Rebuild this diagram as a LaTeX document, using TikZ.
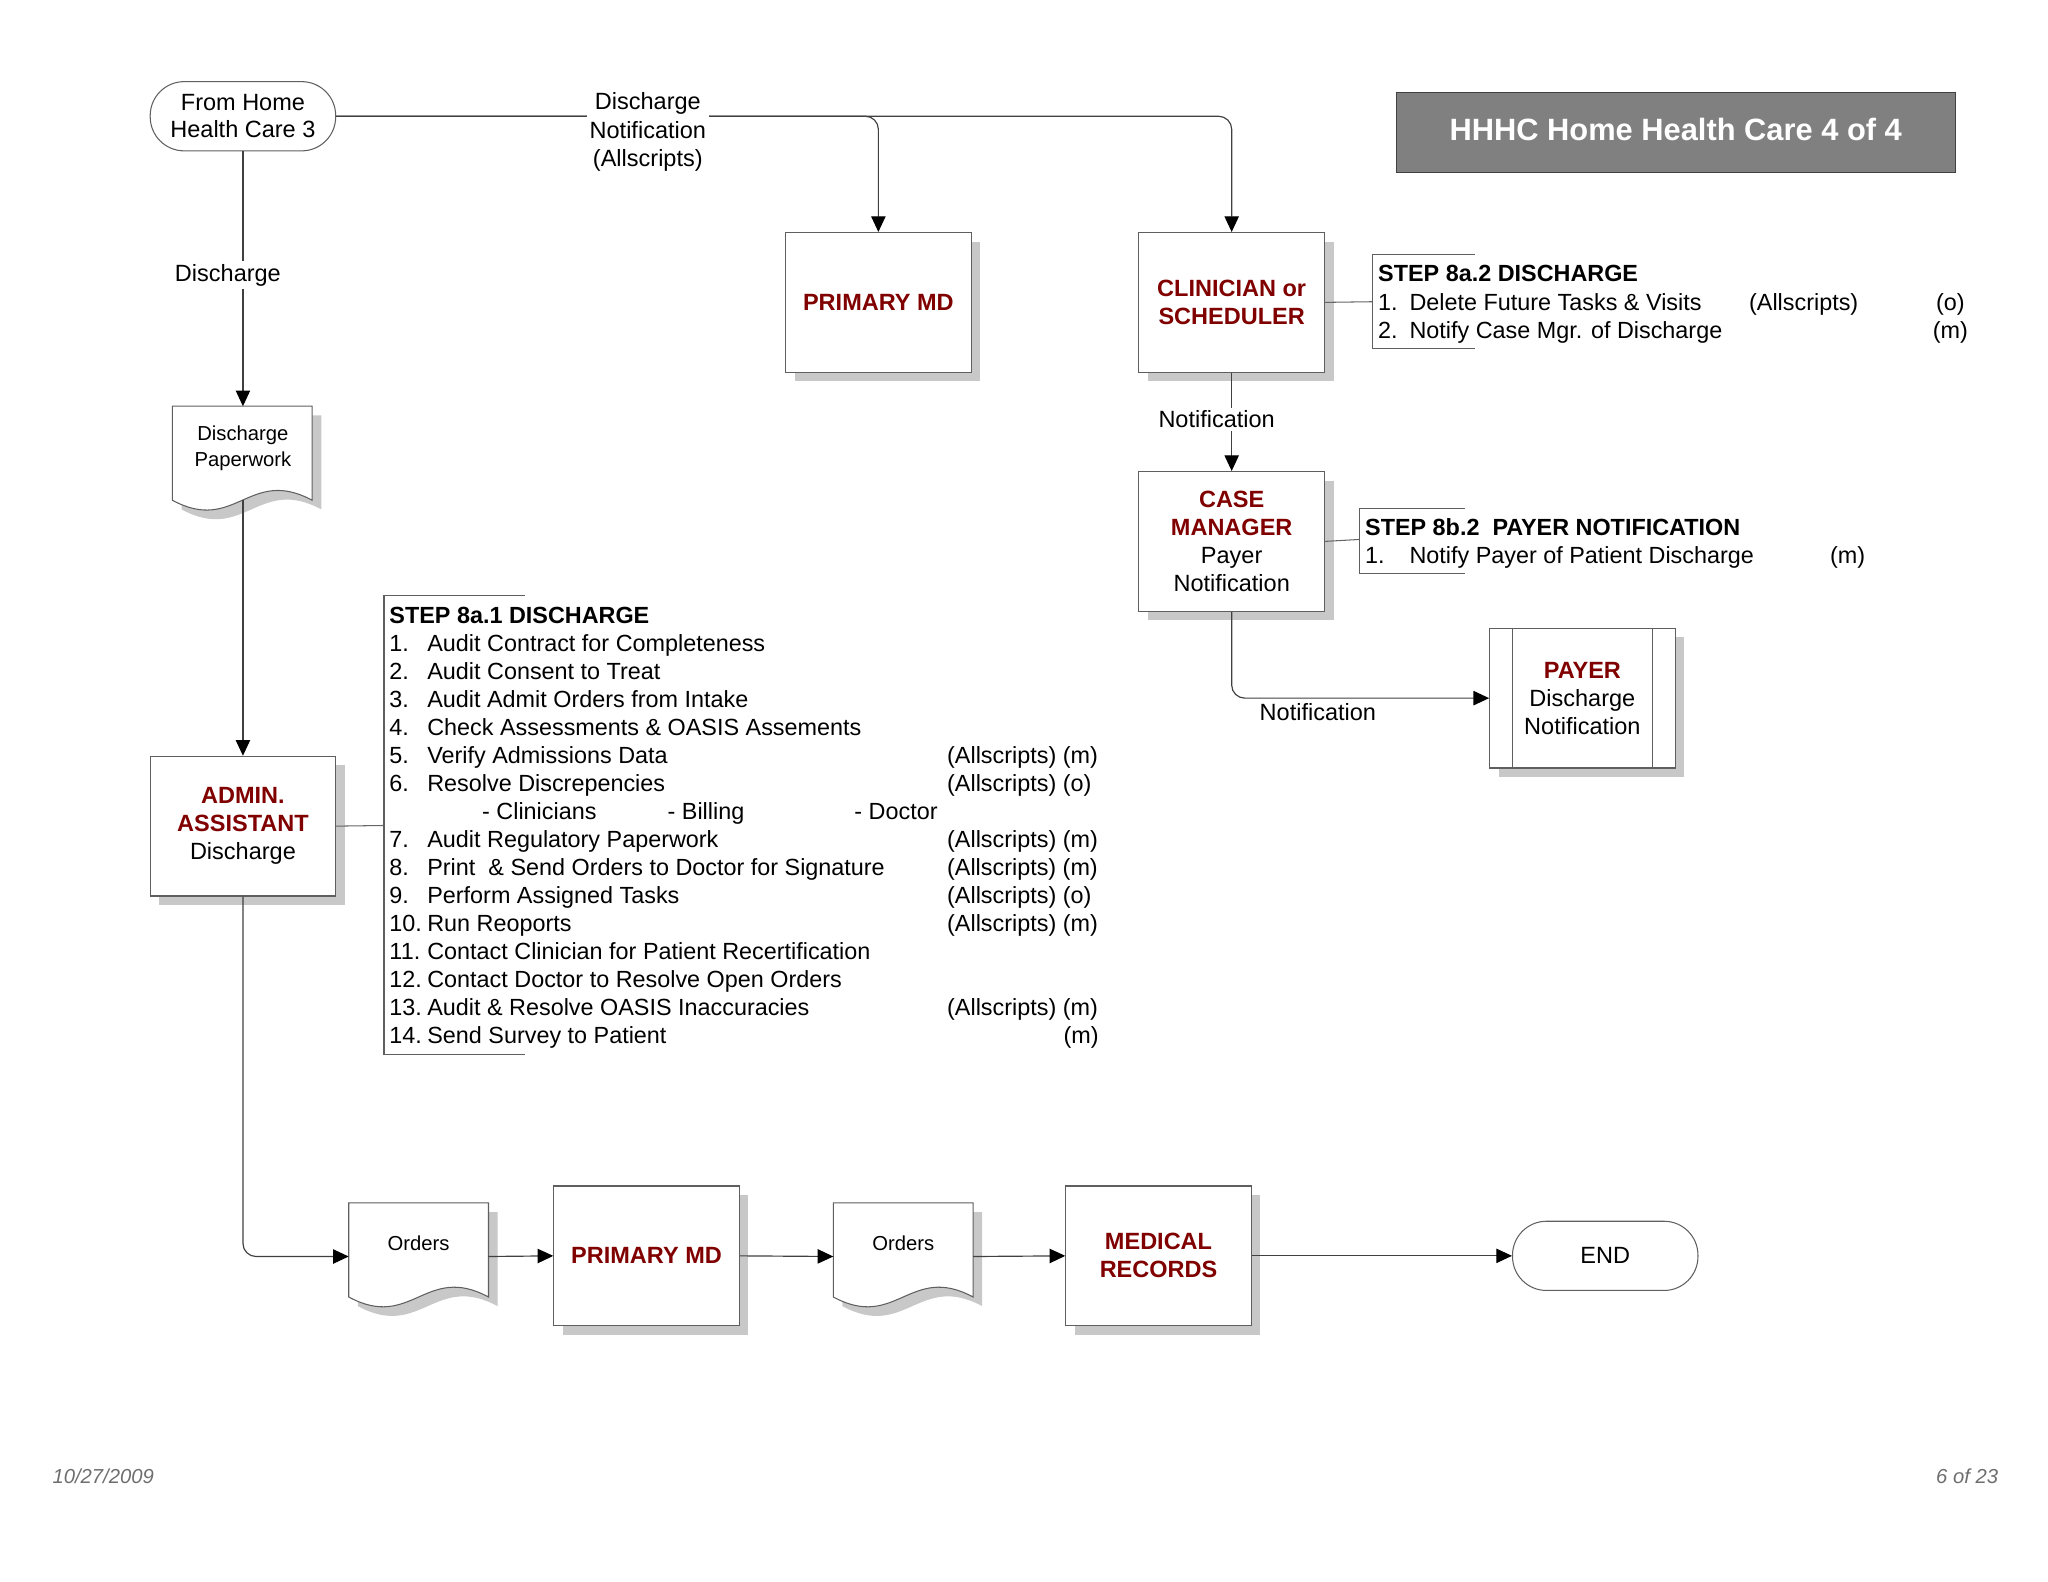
\documentclass[tikz,border=0pt]{standalone}
\usepackage{fontspec}
\setmainfont{Liberation Sans}
\usetikzlibrary{arrows.meta,shadows}
\definecolor{dred}{RGB}{128,0,0}
\definecolor{shad}{RGB}{200,200,200}
\definecolor{edgec}{RGB}{95,95,95}
\definecolor{titlegray}{RGB}{128,128,128}
\definecolor{footgray}{RGB}{110,110,110}
\newcommand\fsz[2]{\fontsize{#1bp}{#2bp}\selectfont}
\newcommand\rd[1]{\textcolor{dred}{\textbf{#1}}}
\newcommand\rowA[3]{\makebox[29bp][l]{#1}\makebox[398bp][l]{#2}#3}
\newcommand\docshape[4]{%
  \fill[shad] ({#1+7},{#2+7}) -- ({#3+7},{#2+7}) -- ({#3+7},{#4+7})
     .. controls ({#1+7+0.55*(#3-#1)},{#4+7-26}) and ({#1+7+0.45*(#3-#1)},{#4+7+26}) .. ({#1+7},{#4+7}) -- cycle;
  \draw[edgec, line width=0.8bp, fill=white] (#1,#2) -- (#3,#2) -- (#3,#4)
     .. controls ({#1+0.55*(#3-#1)},{#4-26}) and ({#1+0.45*(#3-#1)},{#4+26}) .. (#1,#4) -- cycle;}
\begin{document}
\begin{tikzpicture}[x=1bp,y=-1bp,
  box/.style={draw=edgec, line width=0.8bp, fill=white, minimum width=142bp, minimum height=107bp,
    align=center, inner sep=0pt, font=\fsz{18}{21.4},
    drop shadow={shadow xshift=7bp, shadow yshift=-7bp, fill=shad, opacity=1}},
  term/.style={draw=edgec, line width=0.8bp, fill=white, rounded corners=26bp, minimum width=142bp,
    minimum height=53bp, align=center, inner sep=0pt, font=\fsz{18}{21}},
  conn/.style={draw=black!75, line width=0.9bp, -{Triangle[length=12bp,width=11bp,color=black,fill=black]}},
  plain/.style={draw=black!60, line width=0.8bp},
  brk/.style={draw=edgec, line width=0.8bp},
  lbl/.style={fill=white, inner sep=2bp, align=center, font=\fsz{18}{22}},
  steptext/.style={anchor=north west, inner sep=0pt, align=left, font=\fsz{17.9}{21.47}},
  doctext/.style={align=center, inner sep=0pt, font=\fsz{15.5}{20}}]
\useasboundingbox (0,0) rectangle (1568,1211);

% title
\node[draw=black!75, line width=0.8bp, fill=titlegray, minimum width=428bp, minimum height=61bp,
  inner sep=0pt] (title) at (1283,101.5) {};
\node[inner sep=0pt, text=white, font=\fsz{23.6}{28}\bfseries] (titletext) at (1283,99.5) {HHHC Home Health Care 4 of 4};

% terminators
\node[term] (from) at (186,89) {From Home\\Health Care 3};
\node[term] (end) at (1229,961.5) {END};

% process boxes
\node[box] (md1) at (672.5,231.5) {\rd{PRIMARY MD}};
\node[box] (clin) at (943,231.5) {\rd{CLINICIAN or}\\\rd{SCHEDULER}};
\node[box] (case) at (943,414.5) {\rd{CASE}\\\rd{MANAGER}\\Payer\\Notification};
\node[box] (admin) at (186,632.5) {\rd{ADMIN.}\\\rd{ASSISTANT}\\Discharge};
\node[box] (md2) at (495,961.5) {\rd{PRIMARY MD}};
\node[box] (medrec) at (887,961.5) {\rd{MEDICAL}\\\rd{RECORDS}};
\node[box] (payer) at (1211.5,534.5) {\rd{PAYER}\\Discharge\\Notification};
\draw[brk] ([xshift=18bp]payer.north west) -- ([xshift=18bp]payer.south west);
\draw[brk] ([xshift=-18bp]payer.north east) -- ([xshift=-18bp]payer.south east);

% document shapes
\docshape{132}{311}{239}{383}
\node[doctext] (dpaper) at (186,343.5) {Discharge\\Paperwork};
\coordinate (dp-top) at (186,311);
\coordinate (dp-bot) at (186,383);
\docshape{267}{921}{374}{993}
\node[doctext] (ord1) at (320.5,952) {Orders};
\coordinate (o1-left) at (267,962);
\coordinate (o1-right) at (374,962);
\docshape{638}{921}{745}{993}
\node[doctext] (ord2) at (691.5,952) {Orders};
\coordinate (o2-left) at (638,962);
\coordinate (o2-right) at (745,962);

% connectors
\draw[conn, rounded corners=10bp] (from.east) -| (md1.north);
\draw[conn, rounded corners=10bp] (from.east) -| (clin.north);
\node[lbl] (lbdn) at (496,101) {Discharge\\Notification\\(Allscripts)};
\draw[conn] (from.south) -- (dp-top);
\node[lbl] (lbd) at (174.5,210.5) {Discharge};
\draw[conn] (dp-bot) -- (admin.north);
\draw[conn, rounded corners=10bp] (admin.south) |- (o1-left);
\draw[conn] (o1-right) -- (md2.west);
\draw[conn] (md2.east) -- (o2-left);
\draw[conn] (o2-right) -- (medrec.west);
\draw[conn] (medrec.east) -- (end.west);
\draw[conn] (clin.south) -- (case.north);
\node[lbl] (lbn1) at (931.5,321) {Notification};
\draw[conn, rounded corners=10bp] (case.south) |- (payer.west);
\node[lbl, fill=none] (lbn2) at (1009,545) {Notification};

% step brackets
\coordinate (s1-left) at (294,632);
\coordinate (s2-left) at (1051,231);
\coordinate (s3-left) at (1041,413);
\draw[plain] (admin.east) -- (s1-left);
\draw[plain] (clin.east) -- (s2-left);
\draw[plain] (case.east) -- (s3-left);
\draw[brk] (402,456) -- (294,456) -- (294,807) -- (402,807);
\draw[brk] (1129,195) -- (1051,195) -- (1051,267) -- (1129,267);
\draw[brk] (1122,389) -- (1041,389) -- (1041,439) -- (1122,439);

% step texts
\node[steptext] (s1) at (298,464.5) {\textbf{STEP 8a.1 DISCHARGE}\\
\rowA{1.}{Audit Contract for Completeness}{}\\
\rowA{2.}{Audit Consent to Treat}{}\\
\rowA{3.}{Audit Admit Orders from Intake}{}\\
\rowA{4.}{Check Assessments \& OASIS Assements}{}\\
\rowA{5.}{Verify Admissions Data}{(Allscripts) (m)}\\
\rowA{6.}{Resolve Discrepencies}{(Allscripts) (o)}\\
\hspace*{71bp}\makebox[142bp][l]{- Clinicians}\makebox[143bp][l]{- Billing}- Doctor\\
\rowA{7.}{Audit Regulatory Paperwork}{(Allscripts) (m)}\\
\rowA{8.}{Print \ \& Send Orders to Doctor for Signature}{(Allscripts) (m)}\\
\rowA{9.}{Perform Assigned Tasks}{(Allscripts) (o)}\\
\rowA{10.}{Run Reoports}{(Allscripts) (m)}\\
\rowA{11.}{Contact Clinician for Patient Recertification}{}\\
\rowA{12.}{Contact Doctor to Resolve Open Orders}{}\\
\rowA{13.}{Audit \& Resolve OASIS Inaccuracies}{(Allscripts) (m)}\\
\rowA{14.}{Send Survey to Patient}{\makebox[116bp][r]{(m)}}};

\node[steptext] (s2) at (1055,203.2) {\textbf{STEP 8a.2 DISCHARGE}\\
\makebox[24bp][l]{1.}\makebox[260bp][l]{Delete Future Tasks \& Visits}\makebox[139bp][l]{(Allscripts)}\makebox[30bp][c]{(o)}\\
\makebox[24bp][l]{2.}\makebox[399bp][l]{Notify Case Mgr. of Discharge}\makebox[30bp][c]{(m)}};

\node[steptext] (s3) at (1045,396.5) {\textbf{STEP 8b.2 \ PAYER NOTIFICATION}\\
\makebox[34bp][l]{1.}\makebox[322bp][l]{Notify Payer of Patient Discharge}(m)};

% footer
\node[anchor=west, inner sep=0pt, text=footgray, font=\fsz{15.5}{18}\itshape] (date) at (40,1130) {10/27/2009};
\node[anchor=east, inner sep=0pt, text=footgray, font=\fsz{15.5}{18}\itshape] (page) at (1530,1130) {6 of 23};
\end{tikzpicture}
\end{document}
